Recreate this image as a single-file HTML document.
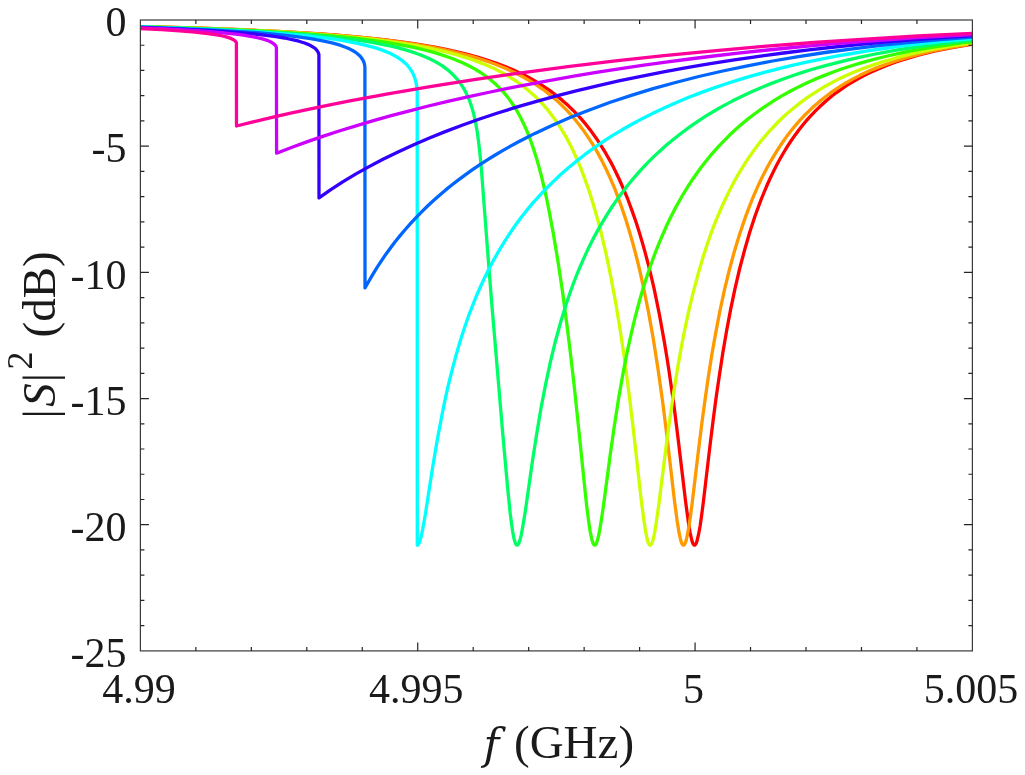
<!DOCTYPE html>
<html><head><meta charset="utf-8"><style>
html,body{margin:0;padding:0;background:#fff;}
svg{display:block;}
text{font-family:"Liberation Serif","Times New Roman",serif;fill:#1a1a1a;}
</style></head><body>
<svg width="1025" height="775" viewBox="0 0 1025 775">
<rect width="1025" height="775" fill="#fff"/>
<defs><clipPath id="ax"><rect x="140.4" y="20.0" width="832.00" height="630.90"/></clipPath></defs>
<g stroke-width="3.3" stroke-linejoin="round" stroke-linecap="round" clip-path="url(#ax)">
<polyline fill="none" stroke="#ff0000" points="140.4,26.6 193.9,28.0 241.2,29.7 283.1,31.7 320.3,34.0 337.3,35.2 353.5,36.6 368.9,38.1 383.5,39.7 397.2,41.4 410.4,43.2 422.9,45.1 434.7,47.2 446.0,49.4 457.0,51.8 467.4,54.4 477.4,57.1 486.9,60.0 495.9,63.1 504.5,66.3 512.9,69.8 520.8,73.4 528.4,77.3 535.7,81.4 542.8,85.8 549.6,90.4 556.1,95.3 562.4,100.4 568.5,105.8 574.4,111.7 580.1,117.7 585.7,124.2 591.1,131.1 596.2,138.2 601.2,145.8 606.0,153.7 610.8,162.1 615.3,171.0 619.6,180.0 623.9,189.8 628.0,199.7 631.8,210.1 635.6,220.8 639.2,232.0 642.8,244.1 645.7,254.6 648.6,265.7 651.4,277.1 654.2,289.2 659.3,314.0 664.1,340.5 666.6,355.6 669.1,371.6 673.9,404.9 678.1,438.7 685.6,501.6 688.4,522.4 690.1,532.5 691.6,539.5 692.4,542.2 693.1,543.9 693.8,544.8 694.5,545.2 695.1,544.9 695.8,544.1 696.5,542.6 697.1,540.5 698.5,534.7 700.1,526.0 701.6,515.6 703.4,501.6 710.0,445.6 713.2,419.8 716.1,397.7 719.1,377.2 722.8,353.0 726.7,330.3 730.7,309.1 735.0,288.6 739.7,268.5 744.6,250.0 749.8,232.0 755.2,215.5 760.9,200.1 764.0,192.5 767.0,185.3 770.2,178.2 773.4,171.6 776.7,165.0 780.1,158.8 783.7,152.5 787.4,146.4 791.3,140.5 795.2,134.9 799.2,129.5 803.4,124.2 807.7,119.1 812.1,114.3 816.7,109.6 821.3,105.2 826.0,101.0 831.0,96.8 836.1,92.8 841.4,89.1 846.8,85.4 852.3,82.0 858.0,78.7 864.0,75.6 870.1,72.6 876.4,69.7 883.0,66.9 889.8,64.3 896.7,61.8 903.9,59.5 911.4,57.2 919.2,55.0 927.2,53.0 935.5,51.0 953.3,47.4 972.4,44.1"/>
<polyline fill="none" stroke="#ff9900" points="140.4,26.6 193.2,28.0 240.0,29.7 281.3,31.7 318.0,33.9 334.9,35.2 350.9,36.5 366.0,38.0 380.3,39.5 393.9,41.2 406.8,43.0 419.1,44.9 430.8,46.9 442.0,49.1 452.7,51.5 462.8,54.0 472.5,56.6 481.8,59.5 490.7,62.5 499.1,65.7 507.2,69.1 514.9,72.7 522.3,76.5 529.5,80.6 536.3,84.8 542.8,89.3 549.1,94.1 555.2,99.1 561.0,104.5 566.7,110.1 572.2,116.2 577.6,122.7 582.7,129.4 587.7,136.6 592.5,143.9 597.2,151.9 601.6,160.1 605.9,168.8 610.1,177.8 614.1,187.2 618.0,197.1 621.7,207.4 625.5,218.6 628.9,229.7 632.4,241.7 635.3,252.5 638.1,263.5 640.7,274.6 643.3,286.5 648.3,311.1 653.2,338.3 658.0,369.1 662.8,403.0 667.1,437.4 674.4,500.1 677.2,521.3 679.0,532.4 680.5,539.5 681.3,542.2 682.0,543.8 682.7,544.8 683.4,545.2 684.0,544.9 684.7,544.1 685.4,542.6 686.1,540.6 687.4,534.7 689.0,526.2 690.5,515.8 692.3,502.0 698.9,446.8 702.1,421.4 705.2,398.7 708.1,378.5 711.8,354.8 715.9,331.9 720.0,310.5 724.3,290.6 729.2,270.5 734.2,252.0 739.6,234.2 745.3,217.4 748.2,209.6 751.2,201.8 754.4,194.1 757.6,186.9 760.9,179.8 764.3,173.1 767.7,166.5 771.2,160.3 775.1,153.8 779.0,147.6 783.0,141.7 787.1,135.9 791.4,130.3 795.7,125.1 800.3,119.9 804.9,115.0 809.6,110.4 814.6,105.7 819.6,101.4 824.9,97.2 830.1,93.2 835.7,89.4 841.4,85.7 847.2,82.2 853.1,78.9 859.4,75.6 865.8,72.6 872.4,69.6 879.2,66.9 886.3,64.2 893.6,61.7 901.1,59.3 908.9,57.0 917.1,54.8 925.4,52.7 934.1,50.7 943.1,48.9 952.6,47.1 972.4,43.8"/>
<polyline fill="none" stroke="#ccff00" points="140.4,26.7 191.0,28.0 235.8,29.7 275.5,31.5 310.8,33.7 342.3,36.2 356.9,37.6 370.6,39.0 383.6,40.6 396.0,42.3 407.6,44.1 418.7,46.0 429.2,48.1 439.4,50.3 448.9,52.7 457.9,55.1 466.7,57.8 474.9,60.6 482.6,63.6 490.1,66.8 497.2,70.1 504.0,73.7 510.5,77.5 516.6,81.5 522.4,85.7 528.1,90.2 533.5,94.9 538.7,99.9 543.6,105.2 548.5,110.9 553.1,116.9 557.5,123.2 561.8,129.8 566.0,136.9 570.0,144.4 573.9,152.3 577.6,160.6 581.4,169.7 584.8,178.8 588.3,188.6 591.6,198.8 594.8,209.4 598.0,220.8 601.1,232.5 606.2,254.3 611.0,277.6 615.6,302.2 620.0,329.0 624.8,360.9 629.3,395.8 633.5,430.7 640.8,496.4 643.8,519.7 645.6,531.4 647.1,538.8 647.9,541.8 648.6,543.5 649.4,544.8 650.1,545.2 650.8,544.8 651.5,543.9 652.2,542.3 653.1,539.7 654.6,532.9 656.2,523.1 659.0,503.2 665.8,449.0 669.6,420.7 673.6,392.9 677.6,367.9 681.1,348.4 684.8,329.3 688.7,311.2 692.7,294.3 698.0,274.3 703.5,255.6 706.4,246.7 709.5,237.8 712.5,229.4 715.7,221.2 719.1,213.1 722.4,205.5 725.9,198.0 729.5,190.6 733.2,183.4 736.9,176.7 741.0,169.8 745.0,163.4 749.4,156.7 753.9,150.4 758.4,144.3 763.2,138.4 768.0,132.7 773.0,127.3 778.1,122.0 783.5,116.8 788.9,111.9 794.6,107.2 800.5,102.6 806.4,98.2 812.5,94.1 818.8,90.1 825.3,86.2 831.9,82.6 838.7,79.1 845.8,75.7 853.0,72.6 860.5,69.5 868.3,66.6 876.2,63.9 884.3,61.3 892.8,58.8 901.5,56.4 910.6,54.2 920.0,52.0 929.7,50.0 939.8,48.0 950.2,46.2 972.4,42.9"/>
<polyline fill="none" stroke="#33ff00" points="140.4,26.7 187.4,28.1 229.0,29.6 266.0,31.3 299.0,33.3 328.4,35.6 354.8,38.2 366.8,39.7 378.2,41.2 389.0,42.8 399.2,44.6 408.7,46.4 417.9,48.4 426.5,50.5 434.7,52.7 442.4,55.1 449.6,57.5 456.6,60.2 463.1,63.0 469.2,66.0 475.0,69.1 480.5,72.5 485.7,76.0 490.5,79.8 495.2,83.8 499.5,87.9 503.7,92.4 507.5,96.9 510.9,101.6 514.4,106.7 517.6,112.0 520.6,117.5 523.5,123.4 526.3,129.6 529.1,136.4 531.7,143.5 534.2,150.9 536.7,158.9 539.2,167.7 541.6,176.8 543.9,186.5 546.3,197.1 548.6,208.4 553.3,233.4 557.9,260.9 562.5,291.6 566.9,324.7 570.4,352.9 573.9,383.1 577.6,418.1 585.1,491.1 587.0,508.5 588.7,521.6 590.2,531.6 591.8,539.2 592.6,542.0 593.3,543.7 594.0,544.8 594.7,545.2 595.4,544.9 596.1,544.0 596.8,542.4 597.4,540.3 599.0,534.0 600.6,524.8 603.3,507.0 610.2,455.0 614.1,427.4 618.4,399.8 622.7,375.1 626.7,354.4 630.9,335.2 635.3,316.7 640.0,299.0 642.9,289.0 646.0,279.2 649.2,269.5 652.4,260.5 655.7,251.5 659.2,242.8 662.8,234.3 666.5,226.0 670.4,217.8 674.4,209.9 678.6,202.2 682.7,195.0 687.2,187.7 691.6,180.8 696.2,174.2 701.0,167.5 706.3,160.7 711.7,154.1 717.3,147.8 722.9,141.8 728.9,135.8 735.0,130.0 741.2,124.5 747.8,119.1 754.4,114.0 761.2,109.1 768.3,104.3 775.5,99.7 783.0,95.2 790.6,91.0 798.5,86.9 806.6,83.1 814.7,79.4 823.2,75.9 831.9,72.5 840.8,69.3 850.0,66.3 859.4,63.4 869.1,60.6 879.2,58.0 889.5,55.5 900.2,53.2 911.2,50.9 922.6,48.8 934.4,46.9 946.6,45.0 959.2,43.2 972.4,41.6"/>
<polyline fill="none" stroke="#00ff66" points="140.4,26.9 182.6,28.1 220.0,29.5 253.4,31.0 283.2,32.8 309.9,34.9 333.6,37.2 354.6,39.8 364.3,41.2 373.4,42.7 382.0,44.3 390.0,46.0 397.5,47.7 404.6,49.6 411.2,51.6 417.3,53.7 423.1,55.9 428.5,58.3 433.5,60.7 438.3,63.4 442.7,66.2 446.7,69.1 450.5,72.3 453.9,75.6 457.1,79.1 460.0,82.8 463.5,88.1 466.5,93.8 469.3,100.2 471.7,106.9 473.8,114.4 475.7,123.2 477.4,132.8 478.7,142.9 480.1,155.4 481.5,170.7 487.8,253.3 491.5,300.3 502.6,431.9 507.5,486.5 510.2,513.2 511.5,523.3 512.7,531.7 513.8,537.6 514.9,541.9 515.5,543.3 516.0,544.4 516.6,545.0 517.2,545.2 517.7,544.9 518.4,544.0 519.1,542.6 519.8,540.6 521.2,535.1 522.8,526.5 525.5,510.0 532.5,460.8 536.6,434.5 541.1,407.5 545.9,382.9 550.6,361.1 555.4,341.2 560.7,322.0 566.2,304.0 569.7,293.7 573.3,283.8 576.9,274.5 580.8,265.1 584.7,256.3 588.8,247.4 593.1,238.9 597.6,230.6 602.2,222.6 607.0,214.6 611.9,207.0 617.0,199.6 622.3,192.4 627.8,185.2 633.5,178.3 639.3,171.6 645.8,164.6 652.5,157.9 659.4,151.4 666.5,145.1 673.9,139.0 681.5,133.0 689.4,127.2 697.4,121.6 705.7,116.2 714.3,111.0 723.2,105.9 732.2,101.1 741.5,96.5 751.1,92.0 760.9,87.7 770.9,83.6 781.2,79.7 791.6,76.0 802.4,72.4 813.3,69.0 824.6,65.8 836.2,62.8 848.2,59.8 860.4,57.1 872.8,54.5 885.7,52.1 899.0,49.7 912.8,47.5 926.9,45.5 941.5,43.6 956.6,41.8 972.4,40.1"/>
<polyline fill="none" stroke="#00ffff" points="140.4,27.0 176.7,28.1 209.3,29.4 238.4,30.8 264.5,32.3 287.8,34.1 308.6,36.0 327.0,38.2 343.3,40.6 357.6,43.3 364.1,44.8 370.0,46.3 375.6,47.9 380.7,49.6 385.4,51.4 389.9,53.3 393.9,55.3 397.5,57.4 400.8,59.6 403.7,61.9 406.4,64.3 408.7,67.0 410.8,69.8 412.5,72.6 414.4,76.9 415.8,81.4 416.8,86.8 417.2,91.8 417.3,545.2 417.9,544.9 418.6,544.1 419.1,543.1 419.8,541.3 421.2,536.3 422.7,529.1 425.4,514.0 432.8,466.2 437.3,439.9 442.3,413.3 444.9,400.6 447.5,388.7 450.2,377.6 453.0,366.6 455.9,355.9 458.8,345.8 461.8,335.9 465.0,326.2 468.3,316.7 471.7,307.8 475.7,297.7 479.9,288.0 484.3,278.4 488.9,269.1 493.6,260.1 498.6,251.3 503.7,242.8 509.0,234.6 514.5,226.5 520.3,218.6 526.3,210.9 532.5,203.4 539.1,196.1 545.7,189.0 552.7,182.1 559.9,175.3 567.8,168.3 576.1,161.4 584.7,154.7 593.6,148.2 602.7,141.9 612.3,135.7 622.1,129.8 632.3,124.0 642.7,118.4 653.5,113.0 664.6,107.7 675.9,102.7 687.6,97.8 699.6,93.1 712.0,88.6 724.7,84.2 737.6,80.1 750.8,76.1 764.3,72.4 778.0,68.8 792.1,65.4 806.6,62.1 821.3,59.1 836.4,56.2 851.8,53.5 867.6,50.9 883.8,48.5 900.4,46.2 917.6,44.1 935.2,42.1 953.5,40.3 972.4,38.5"/>
<polyline fill="none" stroke="#0066ff" points="140.4,27.2 167.7,28.1 192.5,29.1 215.1,30.1 235.8,31.3 254.4,32.5 271.3,33.9 286.4,35.4 300.0,37.1 312.1,38.9 322.7,40.8 332.0,42.9 340.1,45.2 346.9,47.7 349.9,49.1 352.6,50.5 354.9,51.9 357.1,53.5 358.9,55.0 360.6,56.7 362.4,59.2 363.7,61.6 364.5,64.3 364.9,67.4 365.0,287.9 369.1,280.7 373.1,273.8 377.4,266.9 381.7,260.4 386.1,253.9 390.8,247.5 395.5,241.3 400.5,235.1 405.7,229.0 410.9,223.1 416.3,217.3 421.9,211.6 427.6,206.0 433.5,200.5 439.5,195.2 445.7,189.9 452.1,184.7 458.8,179.6 465.6,174.6 472.5,169.7 479.6,164.9 486.9,160.1 494.4,155.5 502.2,150.9 510.1,146.4 518.1,142.0 526.4,137.7 534.9,133.4 552.4,125.2 570.7,117.3 590.1,109.7 610.3,102.3 631.3,95.4 653.1,88.7 675.5,82.5 698.8,76.5 722.8,71.0 747.5,65.8 772.6,61.0 798.5,56.6 825.1,52.5 852.6,48.8 880.9,45.4 910.1,42.3 940.6,39.5 972.4,37.1"/>
<polyline fill="none" stroke="#3300ff" points="140.4,27.5 180.6,29.1 214.4,30.8 229.3,31.8 242.7,32.9 254.9,34.0 266.0,35.3 275.9,36.6 284.6,38.0 292.2,39.6 298.9,41.2 304.6,43.0 309.3,44.9 313.0,47.0 314.6,48.1 315.8,49.1 316.9,50.3 317.9,51.8 318.4,53.0 318.9,54.6 319.0,197.9 330.8,189.7 343.1,181.7 356.0,173.9 369.5,166.4 383.5,159.0 398.0,151.9 413.2,144.9 428.8,138.2 445.2,131.6 462.1,125.2 479.6,119.0 497.7,113.0 516.5,107.2 535.7,101.6 555.6,96.1 576.1,90.9 597.2,85.8 618.8,80.9 641.0,76.3 663.6,71.9 686.7,67.6 710.3,63.6 734.3,59.9 758.9,56.3 783.7,53.0 808.9,49.9 834.6,47.0 860.8,44.4 887.5,41.9 915.0,39.7 943.3,37.6 972.4,35.7"/>
<polyline fill="none" stroke="#cc00ff" points="140.4,27.9 170.5,29.2 196.1,30.7 217.8,32.3 235.8,34.2 243.6,35.2 250.4,36.3 256.3,37.5 261.5,38.7 265.8,39.9 269.4,41.3 272.3,42.8 274.4,44.3 275.2,45.2 275.9,46.2 276.3,47.3 276.4,48.2 276.6,153.2 291.4,147.5 306.8,141.9 322.7,136.4 339.1,131.0 356.0,125.8 373.4,120.7 391.2,115.7 409.6,110.8 428.4,106.0 447.8,101.4 467.7,96.9 488.0,92.5 508.8,88.2 530.1,84.1 551.7,80.1 573.9,76.2 596.3,72.4 619.1,68.9 642.2,65.4 665.8,62.1 689.7,59.0 713.8,56.0 738.2,53.2 762.9,50.5 787.7,48.0 812.9,45.6 838.4,43.4 864.2,41.4 890.4,39.5 917.2,37.7 944.5,36.0 972.4,34.5"/>
<polyline fill="none" stroke="#ff0099" points="140.4,28.5 161.5,29.6 179.6,30.8 195.0,32.1 207.9,33.5 218.3,35.1 222.6,36.0 226.2,36.9 229.4,37.9 231.9,38.9 233.9,39.9 235.2,41.0 235.9,41.8 236.4,42.8 236.5,126.0 254.1,121.7 272.1,117.4 290.6,113.2 309.4,109.2 328.7,105.1 348.5,101.2 389.3,93.6 431.7,86.3 475.7,79.3 521.2,72.8 567.9,66.6 615.5,60.9 664.0,55.6 713.4,50.8 763.4,46.4 814.0,42.5 865.5,39.1 918.0,36.0 972.4,33.4"/>
</g>
<rect x="140.4" y="20.0" width="832.00" height="630.90" fill="none" stroke="#3a3a3a" stroke-width="1.2"/>
<path d="M195.87 650.90v-4.00 M195.87 20.00v4.00 M251.33 650.90v-4.00 M251.33 20.00v4.00 M306.80 650.90v-4.00 M306.80 20.00v4.00 M362.27 650.90v-4.00 M362.27 20.00v4.00 M417.73 650.90v-8.50 M417.73 20.00v8.50 M473.20 650.90v-4.00 M473.20 20.00v4.00 M528.67 650.90v-4.00 M528.67 20.00v4.00 M584.13 650.90v-4.00 M584.13 20.00v4.00 M639.60 650.90v-4.00 M639.60 20.00v4.00 M695.07 650.90v-8.50 M695.07 20.00v8.50 M750.53 650.90v-4.00 M750.53 20.00v4.00 M806.00 650.90v-4.00 M806.00 20.00v4.00 M861.47 650.90v-4.00 M861.47 20.00v4.00 M916.93 650.90v-4.00 M916.93 20.00v4.00 M140.40 45.24h4.00 M972.40 45.24h-4.00 M140.40 70.47h4.00 M972.40 70.47h-4.00 M140.40 95.71h4.00 M972.40 95.71h-4.00 M140.40 120.94h4.00 M972.40 120.94h-4.00 M140.40 146.18h8.50 M972.40 146.18h-8.50 M140.40 171.42h4.00 M972.40 171.42h-4.00 M140.40 196.65h4.00 M972.40 196.65h-4.00 M140.40 221.89h4.00 M972.40 221.89h-4.00 M140.40 247.12h4.00 M972.40 247.12h-4.00 M140.40 272.36h8.50 M972.40 272.36h-8.50 M140.40 297.60h4.00 M972.40 297.60h-4.00 M140.40 322.83h4.00 M972.40 322.83h-4.00 M140.40 348.07h4.00 M972.40 348.07h-4.00 M140.40 373.30h4.00 M972.40 373.30h-4.00 M140.40 398.54h8.50 M972.40 398.54h-8.50 M140.40 423.78h4.00 M972.40 423.78h-4.00 M140.40 449.01h4.00 M972.40 449.01h-4.00 M140.40 474.25h4.00 M972.40 474.25h-4.00 M140.40 499.48h4.00 M972.40 499.48h-4.00 M140.40 524.72h8.50 M972.40 524.72h-8.50 M140.40 549.96h4.00 M972.40 549.96h-4.00 M140.40 575.19h4.00 M972.40 575.19h-4.00 M140.40 600.43h4.00 M972.40 600.43h-4.00 M140.40 625.66h4.00 M972.40 625.66h-4.00" stroke="#262626" stroke-width="1.2" fill="none"/>
<g font-size="42">
<text x="126.6" y="36.2" text-anchor="end">0</text>
<text x="126.6" y="162.4" text-anchor="end">-5</text>
<text x="126.6" y="288.6" text-anchor="end">-10</text>
<text x="126.6" y="414.7" text-anchor="end">-15</text>
<text x="126.6" y="540.9" text-anchor="end">-20</text>
<text x="126.6" y="667.1" text-anchor="end">-25</text>
<text x="138.9" y="703.3" text-anchor="middle">4.99</text>
<text x="416.2" y="703.3" text-anchor="middle">4.995</text>
<text x="693.6" y="703.3" text-anchor="middle">5</text>
<text x="970.9" y="703.3" text-anchor="middle">5.005</text>
</g>
<text x="483.5" y="759.3" font-size="43" font-style="italic" style="font-family:'DejaVu Serif','Liberation Serif',serif">f</text>
<text x="514" y="758" font-size="47">(GHz)</text>
<g transform="translate(54.5 0) rotate(-90)" font-size="47" text-anchor="middle">
<text x="-413.9" y="0">|</text>
<text x="-395" y="0" font-style="italic">S</text>
<text x="-377.5" y="0">|</text>
<text x="-360.6" y="-22.9" font-size="36">2</text>
<text x="-294.4" y="0">(dB)</text>
</g>
</svg>
</body></html>
